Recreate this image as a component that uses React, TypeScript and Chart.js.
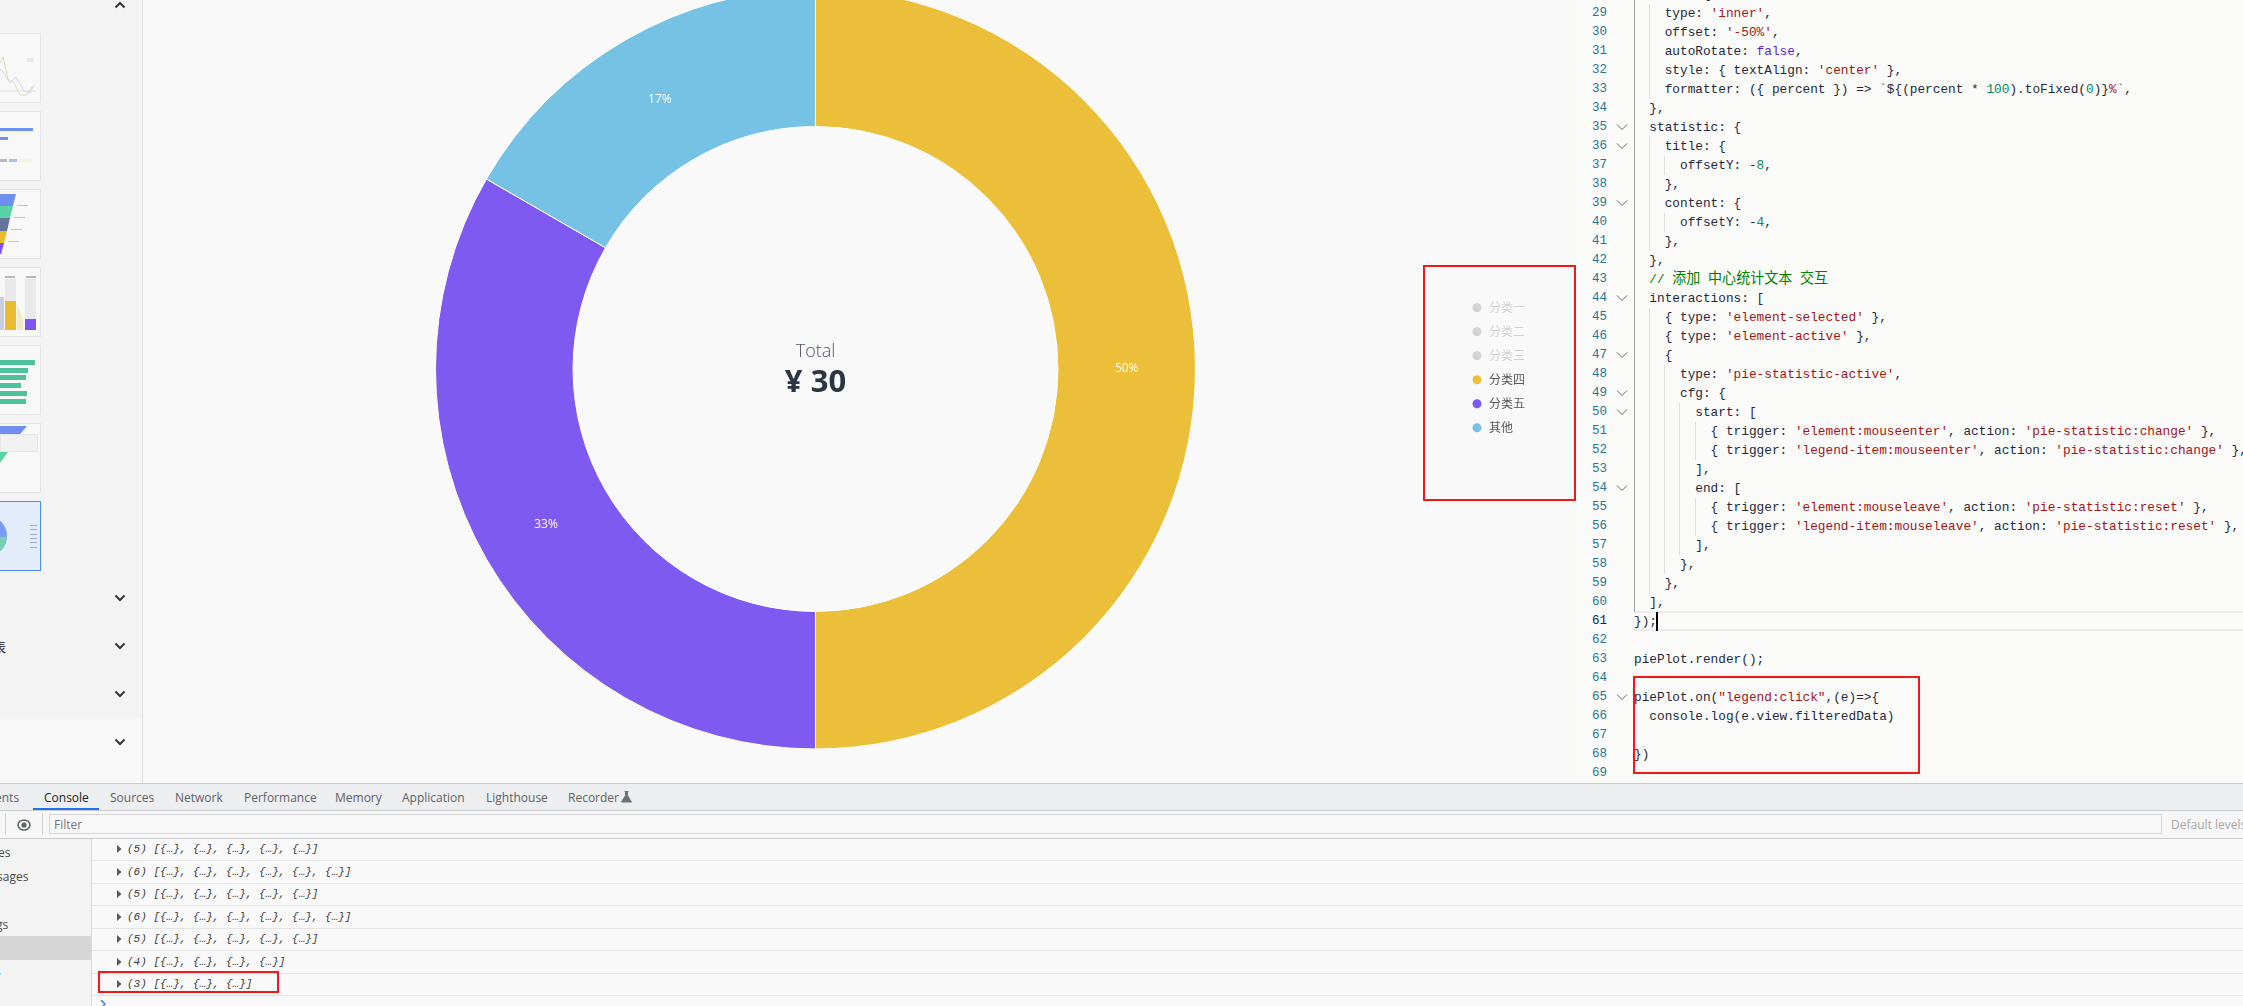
import { useEffect, useRef } from 'react';
import { Chart, registerables } from 'chart.js';

Chart.register(...registerables);

const categories = ['分类一', '分类二', '分类三', '分类四', '分类五', '其他'];
const values = [27, 25, 18, 15, 10, 5];
const sliceColors = ['#6b8ff0', '#5ad8a6', '#5d7092', '#ebbf3a', '#7f5af0', '#76c2e5'];
const filteredOut = ['分类一', '分类二', '分类三'];
const centerTitle = 'Total';
const centerValue = '¥ 30';

const codeLines = [
  "  label: {",
  "    type: 'inner',",
  "    offset: '-50%',",
  "    autoRotate: false,",
  "    style: { textAlign: 'center' },",
  "    formatter: ({ percent }) => `${(percent * 100).toFixed(0)}%`,",
  "  },",
  "  statistic: {",
  "    title: {",
  "      offsetY: -8,",
  "    },",
  "    content: {",
  "      offsetY: -4,",
  "    },",
  "  },",
  "  // 添加 中心统计文本 交互",
  "  interactions: [",
  "    { type: 'element-selected' },",
  "    { type: 'element-active' },",
  "    {",
  "      type: 'pie-statistic-active',",
  "      cfg: {",
  "        start: [",
  "          { trigger: 'element:mouseenter', action: 'pie-statistic:change' },",
  "          { trigger: 'legend-item:mouseenter', action: 'pie-statistic:change' },",
  "        ],",
  "        end: [",
  "          { trigger: 'element:mouseleave', action: 'pie-statistic:reset' },",
  "          { trigger: 'legend-item:mouseleave', action: 'pie-statistic:reset' },",
  "        ],",
  "      },",
  "    },",
  "  ],",
  "});",
  "",
  "piePlot.render();",
  "",
  'piePlot.on("legend:click",(e)=>{',
  "  console.log(e.view.filteredData)",
  "",
  "})",
  "",
];
const foldedLines = [35, 36, 39, 44, 47, 49, 50, 54, 65];
const consoleRows = [5, 6, 5, 6, 5, 4, 3];
const tabs: [string, number][] = [
  ['ents', -5], ['Console', 44], ['Sources', 110], ['Network', 175], ['Performance', 244],
  ['Memory', 335], ['Application', 402], ['Lighthouse', 486], ['Recorder', 568],
];

const uiFont = '"Open Sans", "Noto Sans", sans-serif';
const monoFont = '"Liberation Mono", "Noto Sans CJK SC", monospace';
const charWidth = 7.66;

function box(left: number, top: number, width: number, height: number, background: string, extra = {}) {
  return <div style={{ position: 'absolute', left, top, width, height, background, ...extra }} />;
}

function redBox(left: number, top: number, width: number, height: number) {
  return <div style={{ position: 'absolute', left, top, width, height, boxSizing: 'border-box', border: '2px solid #f21818' }} />;
}

function label(text: string, left: number, top: number, color: string, fontSize = 12) {
  return (
    <div style={{ position: 'absolute', left, top, color, fontSize, lineHeight: '16px', fontFamily: uiFont, whiteSpace: 'pre' }}>
      {text}
    </div>
  );
}

function chevron(x: number, y: number, up = false) {
  return (
    <svg style={{ position: 'absolute', left: x - 6, top: y - 4 }} width={12} height={8}>
      <polyline points={up ? '1.5,6.5 6,2 10.5,6.5' : '1.5,1.5 6,6 10.5,1.5'} fill="none" stroke="#333" strokeWidth={2} />
    </svg>
  );
}

// colours one line of code roughly the way the editor does
function tokens(line: string) {
  const out: any[] = [];
  if (line.trim().startsWith('//')) {
    const parts = line.split(/([\u4e00-\u9fff]+)/);
    parts.forEach((p, i) => out.push(
      <span key={i} style={{ color: '#008000', fontSize: /[\u4e00-\u9fff]/.test(p) ? 14.3 : 13 }}>{p}</span>
    ));
    return out;
  }
  const re = /('[^']*'|"[^"]*"|%`|`|\b\d+\b|\bfalse\b)/g;
  line.split(re).forEach((p, i) => {
    let color = '#1f2b3d';
    if (/^['"]/.test(p) || p === '%`' || p === '`') color = '#a31515';
    else if (/^\d+$/.test(p)) color = '#098658';
    else if (p === 'false') color = '#5a1fe0';
    out.push(<span key={i} style={{ color }}>{p}</span>);
  });
  return out;
}

function Editor() {
  const first = 28;
  const codeX = 57.5;
  const lineY = (n: number) => 13.3 + 19 * (n - 29);
  return (
    <div style={{ position: 'absolute', left: 1576, top: 0, width: 667, height: 783, background: '#fafaf9', overflow: 'hidden' }}>
      {box(codeX, lineY(61) - 10, 610, 2, '#ececec')}
      {box(codeX, lineY(61) + 8, 610, 2, '#ececec')}
      {codeLines.map((line, i) => {
        const indent = line.length - line.trimStart().length;
        const cols = [];
        for (let c = 0; c < indent; c += 2) cols.push(c);
        return cols.map((c) => (
          <div key={i + '-' + c} style={{
            position: 'absolute', left: codeX + c * charWidth, top: lineY(first + i) - 9.5, width: 1, height: 19,
            background: c === 0 ? '#a0a0a0' : '#e0e0e0',
          }} />
        ));
      })}
      {codeLines.map((line, i) => {
        const n = first + i;
        return (
          <div key={n}>
            <div style={{
              position: 'absolute', left: 0, width: 31, top: lineY(n) - 9.5, height: 19, lineHeight: '19px', textAlign: 'right',
              fontFamily: monoFont, fontSize: 12.5, color: n === 61 ? '#0b216f' : '#237893',
            }}>{n}</div>
            {foldedLines.includes(n) && (
              <svg style={{ position: 'absolute', left: 40, top: lineY(n) - 4 }} width={12} height={8}>
                <polyline points="1,1.5 6,6.5 11,1.5" fill="none" stroke="#5f6b73" strokeWidth={1} />
              </svg>
            )}
            <pre style={{
              position: 'absolute', left: codeX, top: lineY(n) - 9.5, margin: 0, height: 19, lineHeight: '19px',
              fontFamily: monoFont, fontSize: 13, transform: 'scaleX(0.982)', transformOrigin: 'left',
            }}>{tokens(line)}</pre>
          </div>
        );
      })}
      {box(80, lineY(61) - 9.5, 2, 19, '#000')}
    </div>
  );
}

function Thumbnails() {
  const cards = [33, 111, 189, 267, 345, 423];
  const card = { background: '#f8f8f8', border: '1px solid #e4e4e4', boxSizing: 'border-box' };
  return (
    <>
      {cards.map((y) => box(-3, y, 44, 70, '', card))}
      <svg style={{ position: 'absolute', left: 0, top: 33 }} width={40} height={70}>
        <polyline points="0,30 3,24 8,46 14,50 20,62 26,62 32,54" fill="none" stroke="#dcdcb8" strokeWidth={1} />
        <polyline points="0,36 4,40 10,50 16,44 24,58 30,60 34,52" fill="none" stroke="#cdd6ea" strokeWidth={1} />
        <line x1={0} y1={58} x2={36} y2={58} stroke="#e0e0e0" />
      </svg>
      {box(27, 58, 7, 4, '#e8e8e8')}
      {box(0, 128, 33, 3, '#6f8ff0')}
      {box(0, 131, 33, 3, '#f3f4e2')}
      {box(0, 137, 8, 3, '#6f8ff0')}
      {box(0, 159, 33, 3, '#f3f4e2')}
      {box(0, 159, 7, 3, '#bbb')}
      {box(9, 159, 8, 3, '#a9bff2')}
      {box(0, 194, 16, 12, '#6f8ff0', { clipPath: 'polygon(0 0,100% 0,81% 100%,0 100%)' })}
      {box(0, 206, 13, 12, '#5ad2a4', { clipPath: 'polygon(0 0,100% 0,77% 100%,0 100%)' })}
      {box(0, 218, 10, 13, '#64749a', { clipPath: 'polygon(0 0,100% 0,70% 100%,0 100%)' })}
      {box(0, 231, 7, 12, '#ebbb2f', { clipPath: 'polygon(0 0,100% 0,60% 100%,0 100%)' })}
      {box(0, 243, 4, 11, '#7f55f0', { clipPath: 'polygon(0 0,100% 0,30% 100%,0 100%)' })}
      {box(17, 205, 11, 1, '#c4c4c4')}
      {box(14, 217, 11, 1, '#c4c4c4')}
      {box(11, 229, 11, 1, '#c4c4c4')}
      {box(8, 241, 11, 1, '#c4c4c4')}
      {box(5, 279, 11, 51, '#e9e9e9')}
      {box(5, 301, 11, 29, '#ebbb2f')}
      {box(0, 297, 4, 33, '#c9cfdc')}
      {box(17, 304, 6, 26, '#f5e8c4', { clipPath: 'polygon(0 0,100% 60%,100% 100%,0 100%)' })}
      {box(25, 279, 11, 51, '#e9e9e9')}
      {box(25, 319, 11, 11, '#7f55f0')}
      {box(5, 276, 10, 2, '#b8b8b8')}
      {box(26, 276, 10, 2, '#b8b8b8')}
      {[[360, 35], [368, 28], [375, 26], [383, 21], [391, 27], [399, 26]].map(([y, w]) => box(0, y, w, 5, '#4dc29a'))}
      {box(0, 426, 27, 8, '#6f8ff0', { clipPath: 'polygon(0 0,100% 0,75% 100%,0 100%)' })}
      {box(0, 434, 38, 18, '#f1f1f1', { border: '1px solid #e6e6e6', boxSizing: 'border-box' })}
      {box(0, 452, 8, 11, '#5ad2a4', { clipPath: 'polygon(0 0,100% 0,0 100%)' })}
      {box(-3, 501, 44, 70, '#e4ebfa', { border: '1px solid #4a8af0', boxSizing: 'border-box' })}
      <div style={{ position: 'absolute', left: -20, top: 516, width: 27, height: 40, borderRadius: '0 20px 20px 0', overflow: 'hidden', background: '#7a9bf2' }}>
        <div style={{ position: 'absolute', left: 0, top: 21, width: 27, height: 20, background: '#78d0b4' }} />
      </div>
      {categories.map((c, i) => box(30, 525 + i * 4.3, 7, 1, '#a6aec4'))}
    </>
  );
}

function Devtools() {
  return (
    <>
      {box(0, 783, 2243, 1, '#c9cbcd')}
      {box(0, 784, 2243, 26, '#eceef0')}
      {box(0, 810, 2243, 1, '#c9cbcd')}
      {box(33, 808, 66, 2, '#1a73e8')}
      {tabs.map(([t, x]) => label(t, x, 790, t === 'Console' ? '#202124' : '#5f6368', 12))}
      <svg style={{ position: 'absolute', left: 621, top: 791 }} width={11} height={12}>
        <path d="M3.5,0.5 h4 M4.5,0.5 v4 L0.5,11 h10 L6.5,4.5 v-4" fill="#6e7276" stroke="#6e7276" />
      </svg>
      {box(0, 811, 2243, 27, '#f7f7f7')}
      {box(5, 814, 1, 20, '#d0d0d0')}
      {box(42, 814, 1, 20, '#d0d0d0')}
      <svg style={{ position: 'absolute', left: 17, top: 819 }} width={14} height={12}>
        <ellipse cx={7} cy={6} rx={6} ry={5} fill="none" stroke="#5f6368" strokeWidth={1.6} />
        <circle cx={7} cy={6} r={2.6} fill="#5f6368" />
      </svg>
      {box(49, 814, 2113, 20, '#f8f8f8', { border: '1px solid #d6d6d6', boxSizing: 'border-box' })}
      {label('Filter', 54, 817, '#777')}
      {label('Default levels', 2171, 817, '#a8a8a8')}
      {box(0, 838, 2243, 1, '#c9cbcd')}
      {box(0, 839, 91, 167, '#f3f3f3')}
      {box(91, 839, 1, 167, '#d8d8d8')}
      {box(0, 936, 91, 24, '#d6d6d6')}
      {label('es', -2, 845, '#4a4a4a')}
      {label('sages', -3, 869, '#4a4a4a')}
      {label('gs', -4, 917, '#4a4a4a')}
      {label('e', -6, 966, '#4a4a4a')}
      {box(92, 839, 2151, 167, '#f9f9f9')}
      {consoleRows.map((n, i) => {
        const y = 849 + i * 22.5;
        const text = `(${n}) [${Array(n).fill('{…}').join(', ')}]`;
        return (
          <div key={i}>
            {box(92, y + 11, 2151, 1, '#e4e4e4')}
            <svg style={{ position: 'absolute', left: 117, top: y - 4 }} width={5} height={8}>
              <polygon points="0,0 4.5,4 0,8" fill="#5a5a5a" />
            </svg>
            <pre style={{
              position: 'absolute', left: 127, top: y - 8, margin: 0, lineHeight: '16px', color: '#3c3c3c',
              fontFamily: monoFont, fontStyle: 'italic', fontSize: 11,
            }}>{text}</pre>
          </div>
        );
      })}
      <svg style={{ position: 'absolute', left: 100, top: 1000 }} width={8} height={6}>
        <polyline points="1,0 5,4 1,8" fill="none" stroke="#2a6fdb" strokeWidth={1.3} />
      </svg>
    </>
  );
}

// percent labels on the slices and the statistic text in the hole
const donutText = {
  id: 'donutText',
  afterLayout(chart: any) {
    // legend sits a little above the ring centre
    chart.legend.top -= 1.3;
    chart.legend.bottom -= 1.3;
  },
  afterDatasetsDraw(chart: any) {
    const { ctx } = chart;
    const meta = chart.getDatasetMeta(0);
    const shown = values.filter((_, i) => chart.getDataVisibility(i));
    const total = shown.reduce((a, b) => a + b, 0);
    ctx.save();
    ctx.textAlign = 'center';
    ctx.textBaseline = 'middle';
    ctx.fillStyle = '#fff';
    ctx.font = '12px "Open Sans", "Noto Sans", sans-serif';
    meta.data.forEach((arc: any, i: number) => {
      if (!chart.getDataVisibility(i)) return;
      const p = arc.tooltipPosition();
      ctx.fillText(`${((values[i] / total) * 100).toFixed(0)}%`, p.x, p.y);
    });
    const c = meta.data[3];
    ctx.fillStyle = '#4f5763';
    ctx.font = '300 18px "Open Sans", "Noto Sans", sans-serif';
    ctx.fillText(centerTitle, c.x, c.y - 17);
    ctx.fillStyle = '#2c3542';
    ctx.font = '700 31px "Noto Sans", "Open Sans", sans-serif';
    ctx.fillText(centerValue, c.x, c.y + 14);
    ctx.restore();
  },
};

function DonutChart() {
  const chartRef = useRef<HTMLCanvasElement>(null);

  useEffect(() => {
    if (!chartRef.current) return;
    const chart = new Chart(chartRef.current, {
      type: 'doughnut',
      data: {
        labels: categories,
        datasets: [{
          data: values,
          backgroundColor: sliceColors,
          borderColor: '#ffffff',
          borderWidth: 1,
        }],
      },
      options: {
        animation: false,
        responsive: true,
        maintainAspectRatio: false,
        radius: 380,
        cutout: '63.8%',
        plugins: {
          tooltip: { enabled: false },
          legend: {
            position: 'right',
            labels: {
              boxHeight: 6.4,
              boxWidth: 12,
              usePointStyle: true,
              padding: 12,
              font: { size: 12, family: '"Noto Sans CJK SC", sans-serif' },
              generateLabels: (c: any) => categories.map((text, i) => {
                const on = c.getDataVisibility(i);
                return {
                  text,
                  index: i,
                  hidden: false,
                  pointStyle: 'circle',
                  fillStyle: on ? sliceColors[i] : '#d3d3d3',
                  strokeStyle: on ? sliceColors[i] : '#d3d3d3',
                  lineWidth: 0,
                  fontColor: on ? '#595959' : '#d3d3d3',
                };
              }),
            },
          },
        },
      },
      plugins: [donutText],
    } as any);
    categories.forEach((c, i) => {
      if (filteredOut.includes(c)) chart.toggleDataVisibility(i);
    });
    chart.update();
    return () => chart.destroy();
  }, []);

  return (
    <div style={{ position: 'absolute', left: 172, top: -20, width: 1363, height: 778 }}>
      <canvas ref={chartRef} />
    </div>
  );
}

export default function App() {
  return (
    <div style={{ position: 'fixed', left: 0, top: 0, width: 2243, height: 1006, overflow: 'hidden', background: '#f9f9f9' }}>
      {box(0, 0, 142, 718, '#f3f3f3')}
      {box(0, 718, 142, 65, '#f8f8f8')}
      {box(142, 0, 1, 783, '#dedede')}
      <Thumbnails />
      {chevron(120, 5, true)}
      {chevron(120, 598)}
      {chevron(120, 646)}
      {chevron(120, 694)}
      {chevron(120, 742)}
      <div style={{ position: 'absolute', left: -7, top: 637, fontSize: 13, lineHeight: '20px', fontFamily: '"Noto Sans CJK SC", sans-serif', color: '#222' }}>表</div>
      <DonutChart />
      <Editor />
      <Devtools />
      {redBox(1423, 265, 153, 236)}
      {redBox(1633, 676, 287, 98)}
      {redBox(98, 971, 181, 22)}
    </div>
  );
}
